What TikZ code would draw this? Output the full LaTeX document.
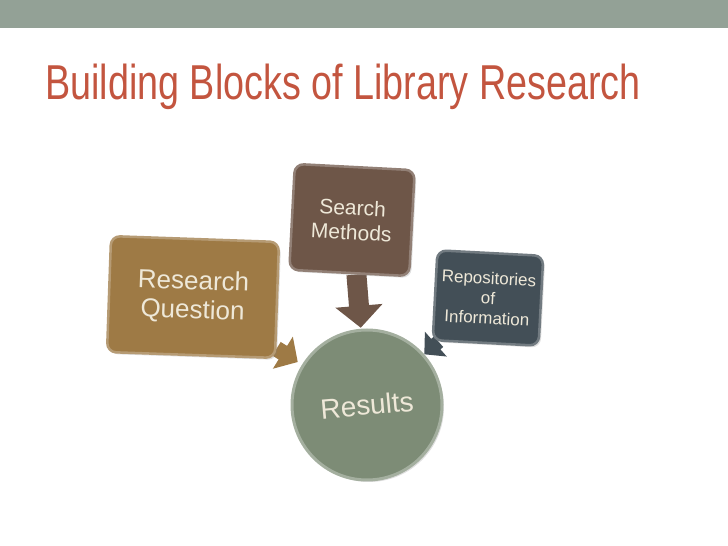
\documentclass[tikz,border=0pt]{standalone}
\usepackage{fontspec}
\setmainfont{Liberation Sans}
\usepackage{xcolor}
\usepackage{tikz}
\usetikzlibrary{shadows}
\usetikzlibrary{arrows.meta,shapes}
\definecolor{barcol}{HTML}{93A196}
\definecolor{titlecol}{HTML}{C3553F}
\definecolor{tancol}{HTML}{9E7A45}
\definecolor{browncol}{HTML}{6E5648}
\definecolor{slatecol}{HTML}{434F57}
\definecolor{sagecol}{HTML}{7D8C76}
\definecolor{creamcol}{HTML}{EEE8D8}
\pgfdeclarelayer{back}
\pgfsetlayers{back,main}
\tikzstyle{block}=[rectangle,rounded corners=9pt,line width=2.5pt,align=center,text=creamcol,inner sep=0pt,drop shadow={opacity=0.25,shadow xshift=2pt,shadow yshift=-2pt}]
\tikzstyle{roundblock}=[circle,line width=3pt,align=center,text=creamcol,inner sep=0pt,drop shadow={opacity=0.25,shadow xshift=2pt,shadow yshift=-2pt}]
\tikzstyle{bigarrow}=[draw,-{Triangle[length=0pt 1.1,width=0pt 2.3]}]

\begin{document}
\begin{tikzpicture}[x=1pt,y=1pt]
  \useasboundingbox (0,0) rectangle (728,546);

  % top bar and title
  \fill[barcol] (0,546) rectangle (728,518);
  \node[anchor=base west,text=titlecol,inner sep=0pt,font=\fontsize{49}{55}\selectfont] (title) at (45,446)
       {\scalebox{0.77}[1]{Building Blocks of Library Research}};

  % the blocks
  \node[block,fill=tancol,draw=tancol!75!white,minimum width=168pt,minimum height=116pt,rotate=-2,
        font=\fontsize{26}{29}\selectfont] (rq) at (193,249) {Research\\Question};
  \node[block,fill=browncol,draw=browncol!75!white,minimum width=120pt,minimum height=106pt,rotate=-3,
        font=\fontsize{21}{25}\selectfont] (sm) at (352,326) {Search\\Methods};
  \node[block,fill=slatecol,draw=slatecol!75!white,minimum width=106pt,minimum height=90pt,rotate=-3,
        font=\fontsize{17}{20}\selectfont] (repo) at (488,248) {Repositories\\of\\Information};
  \node[roundblock,fill=sagecol,draw=sagecol!70!white,minimum size=150pt,
        font=\fontsize{28}{30}\selectfont] (res) at (367,141) {\rotatebox{5}{Results}};

  % arrows into the results
  \begin{pgfonlayer}{back}
  \foreach \source/\col/\w/\gap in {rq/tancol/16/5, sm/browncol/20/1, repo/slatecol/14/0}
         \path[bigarrow,line width=\w pt,draw=\col,shorten >=\gap pt] (\source) -- (res);
  \end{pgfonlayer}

\end{tikzpicture}
\end{document}
